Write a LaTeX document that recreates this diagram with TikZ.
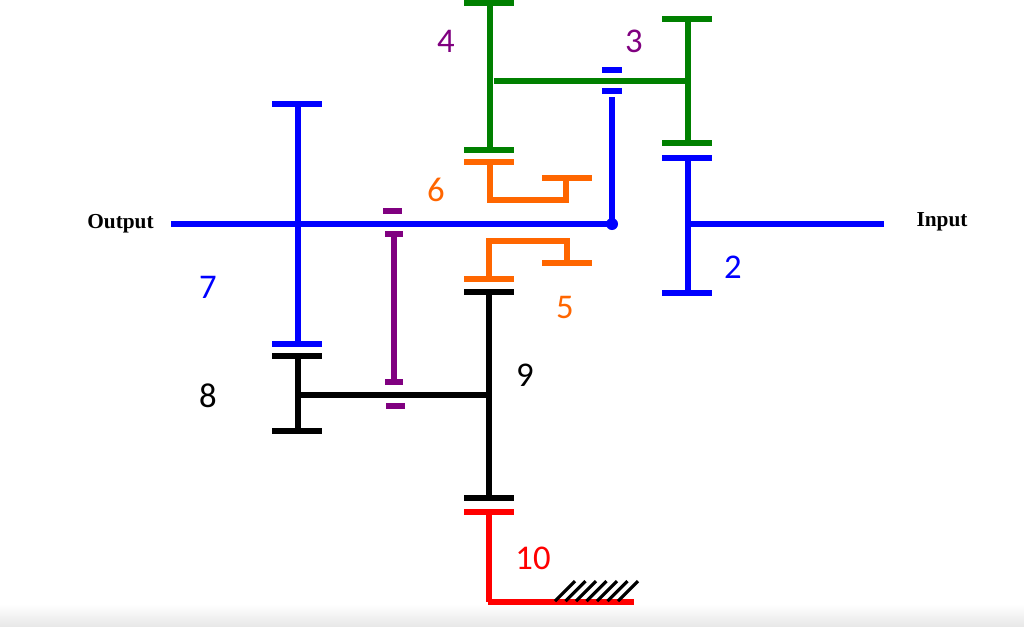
\documentclass[tikz,border=0pt]{standalone}
\usepackage{fontspec}
\setmainfont{Carlito}
\newfontfamily\timesb[Ligatures=TeX]{Liberation Serif}
\definecolor{gblue}{RGB}{0,0,255}
\definecolor{ggreen}{RGB}{0,128,0}
\definecolor{gorange}{RGB}{255,102,0}
\definecolor{gpurple}{RGB}{128,0,128}
\definecolor{gred}{RGB}{255,0,0}
\tikzset{
  thick5/.style={line width=4.3pt},
  bar/.style={line width=4pt},
  num/.style={font=\fontsize{26}{30}\selectfont, inner sep=0pt},
  iolabel/.style={font=\timesb\bfseries\fontsize{16}{18}\selectfont, inner sep=0pt},
  hatchline/.style={black,line width=2.4pt}
}
\begin{document}
\begin{tikzpicture}[x=0.75pt,y=-0.75pt]
\useasboundingbox (0,0) rectangle (1024,626);
\fill[white] (0,0) rectangle (1024,626);
\shade[top color=white,bottom color=black!9] (0,604) rectangle (1024,626);
% green
\draw[ggreen,bar] (464,3)--(514,3) (464,150)--(514,150) (662,19)--(712,19) (662,143)--(712,143);
\draw[ggreen,thick5] (490,3)--(490,150) (688,19)--(688,146);
\draw[ggreen,line width=3.9pt] (494,81)--(688,81);
% blue
\draw[gblue,bar] (602,70)--(622,70) (602,91)--(622,91) (662,158)--(712,158) (662,293)--(712,293) (272,104)--(322,104) (272,344)--(322,344);
\draw[gblue,thick5] (612,97)--(612,224) (688,158)--(688,296) (298,104)--(298,344) (690,224)--(884,224) (171,224)--(612,224);
\coordinate (hub) at (612,224);
\fill[gblue] (hub) circle[radius=6];
% orange
\draw[gorange,bar] (464,162)--(514,162) (542,178)--(592,178) (464,279)--(514,279) (542,263)--(592,263);
\draw[gorange,thick5] (490,162)--(490,200)--(566,200)--(566,178) (489,279)--(489,241)--(567,241)--(567,263);
% black
\draw[black,bar] (464,292)--(514,292) (464,498)--(514,498) (272,356)--(322,356) (272,431)--(322,431);
\draw[black,thick5] (489,292)--(489,498) (298,356)--(298,431) (298,395)--(489,395);
% purple
\draw[gpurple,bar] (383,211)--(402,211) (385,234)--(403,234) (385,382)--(403,382) (386,406)--(405,406);
\draw[gpurple,thick5] (394,234)--(394,382);
% red
\draw[gred,bar] (464,512)--(514,512);
\draw[gred,thick5] (489,512)--(489,602);
\draw[gred,line width=4.6pt] (488,602)--(634,602);
% hatch
\foreach \hx in {555,565.5,576,586.5,597,607.5,618}
  \draw[hatchline] (\hx,601)--(\hx+20,581);
% labels
\node[num,text=gpurple] (n4) at (446,41.5) {4};
\node[num,text=gpurple] (n3) at (634,41.5) {3};
\node[num,text=gorange] (n6) at (436,189.5) {6};
\node[num,text=gorange] (n5) at (565,307.5) {5};
\node[num,text=gblue] (n2) at (733,267.5) {2};
\node[num,text=gblue] (n7) at (208,287.5) {7};
\node[num,text=black] (n8) at (208,395.5) {8};
\node[num,text=black] (n9) at (525,375.5) {9};
\node[num,text=gred] (n10) at (533,558.5) {10};
\node[iolabel] (out) at (120.5,224) {Output};
\node[iolabel] (in) at (942,222) {Input};
\end{tikzpicture}
\end{document}
